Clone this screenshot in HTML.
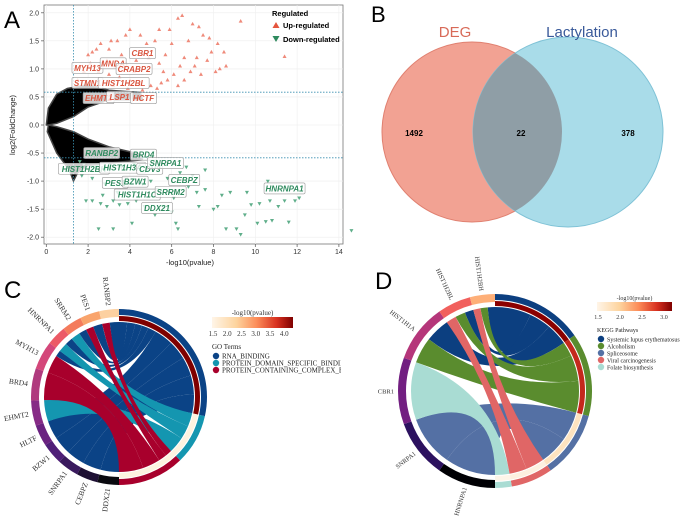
<!DOCTYPE html>
<html><head><meta charset="utf-8"><style>
html,body{margin:0;padding:0;background:#fff}
svg{display:block}
text{font-family:"Liberation Sans",sans-serif}
.serif{font-family:"Liberation Serif",serif}
</style></head><body>
<svg id="fig" width="685" height="518" viewBox="0 0 685 518" xmlns="http://www.w3.org/2000/svg">
<rect width="685" height="518" fill="#fff"/>
<defs><clipPath id="clipC"><rect x="0" y="270" width="341" height="248"/></clipPath></defs>
<g id="volcano"></g>
<g id="venn">
  <circle cx="472" cy="132" r="90" fill="#f2a293" stroke="#e08070" stroke-width="1"/>
  <circle cx="568" cy="132" r="95" fill="#a9dce9" stroke="#7fc2d6" stroke-width="1"/>
  <clipPath id="cl"><circle cx="472" cy="132" r="90"/></clipPath>
  <circle cx="568" cy="132" r="95" fill="#8f9ea6" clip-path="url(#cl)"/>
  <text x="455" y="37" font-size="15" fill="#d86a58" text-anchor="middle">DEG</text>
  <text x="582" y="37" font-size="15" fill="#3a5a9a" text-anchor="middle">Lactylation</text>
  <text x="414" y="136" font-size="8" font-weight="bold" text-anchor="middle">1492</text>
  <text x="521" y="136" font-size="8" font-weight="bold" text-anchor="middle">22</text>
  <text x="628" y="136" font-size="8" font-weight="bold" text-anchor="middle">378</text>
</g>
<g id="chordC" clip-path="url(#clipC)"></g>
<g id="chordD"></g>
<text x="4" y="28" font-size="24">A</text>
<text x="371" y="22" font-size="22">B</text>
<text x="4" y="298" font-size="24">C</text>
<text x="375" y="289" font-size="24">D</text>
</svg>
<script>
// ---------- Volcano data ----------
const upX=[6.5,6.3,7,7.3,9.3,11.4,5.9,5.4,4.5,4.0,3.8,3.4,3.1,2.6,2.2,2.0,2.4,3,4.8,5.2,6.0,6.8,7.5,7.8,8.2,7.9,8.5,7.7,7.2,6.6,8.3,8.6,8.1,7.4,6.9,6.4,6.1,5.8,6.3,5.5,5,4.5,4,3.5,3,2.5,3.3,3.8,4.3,5.4,5.7,4.9,3.6,2.9,2.3,1.8,1.5,1.9,2.6,3.9,4.6,5.3,6.6,7.1,2.1,3.2,4.2,5.6];
const upY=[1.95,1.9,1.8,1.75,1.85,1.22,1.7,1.7,1.6,1.7,1.6,1.5,1.5,1.45,1.3,1.25,1.35,1.35,1.45,1.5,1.45,1.5,1.6,1.55,1.45,1.3,1.3,1.15,1.2,1.2,1.0,1.05,0.95,0.9,0.95,1.05,0.9,0.8,0.7,0.75,0.7,0.75,0.8,0.85,0.9,0.95,1.05,1.1,1.15,1.1,1.25,1.2,1.25,1.15,1.05,0.95,0.8,0.75,0.72,0.65,0.62,0.65,0.8,1.05,1.1,0.7,0.95,0.95];
const downX=[14.6,11.6,11.9,12.1,11.4,11.1,10.7,10.6,10.2,9.8,9.5,10.1,10.5,10.8,9.1,9.3,8.6,8.2,8.0,8.4,8.8,9.6,7.6,7.2,6.8,6.3,6.2,6.0,5.6,5.2,4.7,4.3,3.9,3.5,3.2,2.9,2.6,2.2,1.9,2.5,3.2,4.1,2.7,3.4,4.6,5.0,5.8,6.4,7.0,7.6,6.7,5.5,4.8,4.2,3.6,3.0,2.4,1.8,1.6,2.2,1.7,2.8,3.8,5.3,6.1,7.3,5.9];
const downY=[-1.88,-1.73,-1.35,-1.3,-1.35,-1.45,-1.35,-1.0,-1.4,-1.42,-1.6,-1.75,-1.72,-1.7,-1.85,-1.95,-1.85,-1.45,-1.5,-1.25,-1.2,-1.2,-1.15,-1.2,-1.1,-1.85,-1.75,-1.55,-1.45,-1.6,-1.45,-1.35,-1.4,-1.42,-1.35,-1.45,-1.4,-1.35,-1.35,-1.85,-1.85,-1.75,-1.25,-1.2,-1.05,-1.0,-0.95,-0.85,-0.9,-0.8,-0.75,-0.75,-0.8,-0.7,-0.75,-0.8,-0.75,-0.7,-0.65,-0.95,-0.9,-1.05,-1.05,-1.15,-1.3,-1.45,-1.2];
const cloudUpX=[0,0.1,0.5,1,2,3,4.5,4.6,3,2,1.3,0.5,0.1];
const cloudUpY=[0,0.3,0.55,0.65,0.72,0.62,0.58,0.45,0.45,0.32,0.15,0.03,0];
const cloudDnX=[0.1,0.5,1.3,2,3,4.5,4.6,3,2,1.5,1.3,1.1,0.5,0.05];
const cloudDnY=[0,-0.03,-0.12,-0.25,-0.39,-0.52,-0.62,-0.68,-0.72,-0.85,-1.0,-0.8,-0.5,-0.12];
const xTicks=[0,2,4,6,8,10,12,14];
const yTicks=[2.0,1.5,1.0,0.5,0.0,-0.5,-1.0,-1.5,-2.0];
const labelGene=["MYH13","MNDA","CBR1","CRABP2","STMN1","HIST1H2BL","EHMT2","LSP1","HCTF","RANBP2","BRD4","HIST1H2BH","HIST1H3A","CDV3","SNRPA1","CEBPZ","PES1","BZW1","HIST1H1C","SRRM2","DDX21","HNRNPA1"];
const labelX=[1.97,3.2,4.6,4.2,1.97,3.7,2.5,3.5,4.65,2.65,4.65,1.8,3.65,4.95,5.7,6.6,3.3,4.25,4.35,5.95,5.3,11.4];
const labelY=[1.02,1.1,1.28,1.0,0.75,0.75,0.48,0.5,0.48,-0.5,-0.53,-0.78,-0.76,-0.78,-0.68,-0.98,-1.03,-1.01,-1.24,-1.19,-1.48,-1.13];

const NS="http://www.w3.org/2000/svg";
function mk(tag,attrs,parent){const e=document.createElementNS(NS,tag);for(const k in attrs)e.setAttribute(k,attrs[k]);if(parent)parent.appendChild(e);return e;}
const sx=v=>46.3+v*20.9, sy=v=>125-v*56.1;
const V=document.getElementById('volcano');
let frame=mk('rect',{x:44,y:5,width:299,height:239,fill:'#fff',stroke:'#777','stroke-width':0.8},V);


xTicks.forEach(t=>{
  let g=mk('line',{x1:sx(t),x2:sx(t),y1:5,y2:244,stroke:'#eee','stroke-width':0.6},V);
  
  
  let tk=mk('line',{x1:sx(t),x2:sx(t),y1:244,y2:247,stroke:'#555','stroke-width':0.7},V);
  
  
  let tx=mk('text',{x:sx(t),y:254,'font-size':7,'text-anchor':'middle',fill:'#333'},V);tx.textContent=t;
  
  
});
yTicks.forEach(t=>{
  let g=mk('line',{x1:44,x2:343,y1:sy(t),y2:sy(t),stroke:'#eee','stroke-width':0.6},V);
  
  
  let tk=mk('line',{x1:41,x2:44,y1:sy(t),y2:sy(t),stroke:'#555','stroke-width':0.7},V);
  
  
  let tx=mk('text',{x:39,y:sy(t)+2.5,'font-size':7,'text-anchor':'end',fill:'#333'},V);tx.textContent=t.toFixed(1);
  
  
});
let cu=mk('polygon',{points:cloudUpX.map((x,i)=>sx(x)+','+sy(cloudUpY[i])).join(' '),fill:'#000',stroke:'#444','stroke-width':1.5,'stroke-linejoin':'round'},V);


let cd=mk('polygon',{points:cloudDnX.map((x,i)=>sx(x)+','+sy(cloudDnY[i])).join(' '),fill:'#000',stroke:'#444','stroke-width':1.5,'stroke-linejoin':'round'},V);


upX.forEach((x,i)=>{const X=sx(x),Y=sy(upY[i]);
  let p=mk('polygon',{points:`${X},${Y-2.2} ${X-2},${Y+1.4} ${X+2},${Y+1.4}`,fill:'#ef8a7a'},V);
  
  });
downX.forEach((x,i)=>{const X=sx(x),Y=sy(downY[i]);
  let p=mk('polygon',{points:`${X},${Y+2.2} ${X-2},${Y-1.4} ${X+2},${Y-1.4}`,fill:'#5fae8a'},V);
  
  });
[[1.3,null],[null,0.585],[null,-0.585]].forEach(([vx,hy])=>{
  let l= vx!==null? mk('line',{x1:sx(vx),x2:sx(vx),y1:5,y2:244},V):mk('line',{x1:44,x2:343,y1:sy(hy),y2:sy(hy)},V);
  l.setAttribute('stroke','#3a8fb0');l.setAttribute('stroke-width','0.8');l.setAttribute('stroke-dasharray','1.5,1.5');
  
  
});
labelGene.forEach((g,i)=>{
  const up=labelY[i]>0, w=g.length*5.0+6, X=sx(labelX[i]), Y=sy(labelY[i]);
  let r=mk('rect',{x:X-w/2,y:Y-5.5,width:w,height:11,rx:1.5,fill:'rgba(255,255,255,0.8)',stroke:'#999','stroke-width':0.6},V);
  
  
  let t=mk('text',{x:X,y:Y+3,'font-size':8,'font-style':'italic','font-weight':'bold','text-anchor':'middle',fill:up?'#d9553f':'#2e8a5e'},V);t.textContent=g;
  
  
});
let xt=mk('text',{x:190,y:265,'font-size':7.5,'text-anchor':'middle',fill:'#222'},V);xt.textContent='-log10(pvalue)';


let yt=mk('text',{x:15,y:125,'font-size':7.5,'text-anchor':'middle',fill:'#222',transform:'rotate(-90 15 125)'},V);yt.textContent='log2(FoldChange)';


let lg=mk('text',{x:272,y:16,'font-size':7.5,'font-weight':'bold'},V);lg.textContent='Regulated';


let l1=mk('polygon',{points:'276,22 272.5,28 279.5,28',fill:'#e5553e'},V);


let l1t=mk('text',{x:283,y:28,'font-size':7.5,'font-weight':'bold'},V);l1t.textContent='Up-regulated';


let l2=mk('polygon',{points:'276,42 272.5,36 279.5,36',fill:'#2e8a5e'},V);


let l2t=mk('text',{x:283,y:42,'font-size':7.5,'font-weight':'bold'},V);l2t.textContent='Down-regulated';



// ---------- Chord C data ----------
const cGenes=["DDX21","CEBPZ","SNRPA1","BZW1","HLTF","EHMT2","BRD4","MYH13","HNRNPA1","SRRM2","PES1","RANBP2"];
const cGeneColors=["#0a0a10","#1e1033","#3a1a5e","#4f1f78","#6a2280","#862b86","#b03a7e","#d4477a","#ec5a66","#f47b5c","#f9a46c","#fcd0a0"];
const cTerms=["RNA_BINDING","PROTEIN_DOMAIN_SPECIFIC_BINDING","PROTEIN_CONTAINING_COMPLEX_BINDING"];
const cTermColors=["#0b4386","#1496b0","#a8002c"];
const cTermInner=["#7f0000","#fdf3e0","#fdf3e0"];
const cLinkGene=["DDX21","CEBPZ","SNRPA1","BZW1","HLTF","EHMT2","BRD4","MYH13","MYH13","HNRNPA1","HNRNPA1","SRRM2","SRRM2","PES1","PES1","RANBP2","RANBP2"];
const cLinkTerm=[0,0,0,0,0,1,2,2,0,1,0,1,0,2,0,2,0];
const cLinkGW=[12,12,12,12,12,14,18,12,4,6,5,6,5,5,6,5,6];
const cLinkTW=[14,14,14,14,14,12,18,13,6,10,5,10,5,6,6,5,6];
// ---------- Chord D data ----------
const dGenes=["HNRNPA1","SNRPA1","CBR1","HIST1H1A","HIST1H2BL","HIST1H2BH"];
const dGeneColors=["#000004","#2c115f","#721f81","#b5367a","#f1605d","#feaf78"];
const dTerms=["Systemic lupus erythematosus","Alcoholism","Spliceosome","Viral carcinogenesis","Folate biosynthesis"];
const dTermColors=["#0c3f80","#5a8c2e","#5470a4","#e06666","#a9dcd3"];
const dTermInner=["#8b0000","#c4281c","#fde3c0","#fdf0e0","#fdf5e8"];
const dLinkGene=["HNRNPA1","SNRPA1","CBR1","HIST1H1A","HIST1H1A","HIST1H2BL","HIST1H2BL","HIST1H2BL","HIST1H2BH","HIST1H2BH","HIST1H2BH"];
const dLinkTerm=[2,2,4,0,1,0,1,3,0,1,3];
const dLinkGW=[35,35,40,17,18,6,7,7,5,5,5];
const dLinkTW=[20,20,10,15,22,15,18,12,25,10,13];

function pt(cx,cy,r,a){const t=a*Math.PI/180;return [cx+r*Math.sin(t),cy-r*Math.cos(t)];}
function arcPath(cx,cy,r1,r2,a1,a2){
  const p1=pt(cx,cy,r2,a1),p2=pt(cx,cy,r2,a2),p3=pt(cx,cy,r1,a2),p4=pt(cx,cy,r1,a1);const lg=(a2-a1)>180?1:0;
  return `M${p1} A${r2},${r2} 0 ${lg} 1 ${p2} L${p3} A${r1},${r1} 0 ${lg} 0 ${p4} Z`;}
function chord(G,cx,cy,R,genes,gcol,terms,tcol,tin,lg,lt,gw,tw,fs){
  const gi=lg.map(g=>genes.indexOf(g));
  const gs=genes.map((_,k)=>gw.reduce((s,w,i)=>s+(gi[i]===k?w:0),0)), gT=gs.reduce((a,b)=>a+b,0);
  const ts=terms.map((_,k)=>tw.reduce((s,w,i)=>s+(lt[i]===k?w:0),0)), tT=ts.reduce((a,b)=>a+b,0);
  const gStart=[],tStart=[];let a=180;gs.forEach(s=>{gStart.push(a);a+=s/gT*180;});a=0;ts.forEach(s=>{tStart.push(a);a+=s/tT*180;});
  const gA={},tA={};
  genes.forEach((_,k)=>{let cur=gStart[k];lg.map((_,i)=>i).filter(i=>gi[i]===k).sort((x,y)=>lt[y]-lt[x]).forEach(i=>{gA[i]=[cur,cur+gw[i]/gT*180];cur+=gw[i]/gT*180;});});
  terms.forEach((_,k)=>{let cur=tStart[k];lg.map((_,i)=>i).filter(i=>lt[i]===k).sort((x,y)=>gi[y]-gi[x]).forEach(i=>{tA[i]=[cur,cur+tw[i]/tT*180];cur+=tw[i]/tT*180;});});
  const rc=R-13;
  lg.forEach((_,i)=>{
    const [a1,a2]=gA[i],[b1,b2]=tA[i];
    const A1=pt(cx,cy,rc,a1),A2=pt(cx,cy,rc,a2),B1=pt(cx,cy,rc,b1),B2=pt(cx,cy,rc,b2);
    const d=`M${A1} A${rc},${rc} 0 0 1 ${A2} Q${cx},${cy} ${B1} A${rc},${rc} 0 ${(b2-b1)>180?1:0} 1 ${B2} Q${cx},${cy} ${A1} Z`;
    let p=mk('path',{d:d,fill:tcol[lt[i]],stroke:'none'},G);
    
    
  });
  genes.forEach((g,k)=>{const a1=gStart[k],a2=a1+gs[k]/gT*180;
    let s=mk('path',{d:arcPath(cx,cy,R-8,R,a1,a2),fill:gcol[k]},G);
    
    
    const m=(a1+a2)/2,p=pt(cx,cy,R+4,m);
    let t=mk('text',{x:p[0],y:p[1]+2.5,'font-size':fs,'text-anchor':'end',fill:'#333',class:'serif',transform:`rotate(${m-270} ${p[0]} ${p[1]})`},G);t.textContent=g;
    
    
  });
  terms.forEach((g,k)=>{const a1=tStart[k],a2=a1+ts[k]/tT*180;
    let s=mk('path',{d:arcPath(cx,cy,R-6,R,a1,a2),fill:tcol[k]},G);
    
    
    let s2=mk('path',{d:arcPath(cx,cy,R-12,R-7,a1,a2),fill:tin[k]},G);
    
    
  });
}
chord(document.getElementById('chordC'),119,397,88,cGenes,cGeneColors,cTerms,cTermColors,cTermInner,cLinkGene,cLinkTerm,cLinkGW,cLinkTW,7.5);
chord(document.getElementById('chordD'),495,391,97,dGenes,dGeneColors,dTerms,dTermColors,dTermInner,dLinkGene,dLinkTerm,dLinkGW,dLinkTW,6.5);

// ---------- legends ----------
function legend(G,x,y,w,h,ticks,fsT,title,groupTitle,names,cols,dy,fs){
  const id='grad'+x;
  const defs=mk('defs',{},G);const lgd=mk('linearGradient',{id:id,x1:0,x2:1,y1:0,y2:0},defs);
  [['0','#fff5e8'],['0.3','#fdd49e'],['0.55','#fc8d59'],['0.8','#d7301f'],['1','#7f0000']].forEach(([o,c])=>mk('stop',{offset:o,'stop-color':c},lgd));
  let tt=mk('text',{x:x+w/2,y:y-2,'font-size':fsT,'text-anchor':'middle',class:'serif',fill:'#333'},G);tt.textContent=title;
  
  
  let cb=mk('rect',{x:x,y:y,width:w,height:h,fill:`url(#${id})`},G);
  
  
  ticks.forEach((t,i)=>{const X=x+i*(w*0.88)/(ticks.length-1)+1;
    let tk=mk('text',{x:X,y:y+h+8,'font-size':fsT,'text-anchor':'middle',class:'serif',fill:'#333'},G);tk.textContent=t;
    
    });
  let gt=mk('text',{x:x,y:y+h+21,'font-size':fs,class:'serif',fill:'#222'},G);gt.textContent=groupTitle;
  
  
  names.forEach((n,i)=>{const Y=y+h+28+i*dy;
    let c=mk('circle',{cx:x+4,cy:Y,r:dy/2-0.3,fill:cols[i]},G);
    
    
    let t=mk('text',{x:x+10,y:Y+2.3,'font-size':fs,class:'serif',fill:'#222'},G);t.textContent=n;
    
    });
}
legend(document.getElementById('chordC'),212,317,81,11,["1.5","2.0","2.5","3.0","3.5","4.0"],7,"-log10(pvalue)","GO Terms",cTerms,cTermColors,7,7);
legend(document.getElementById('chordD'),597,302,75,9,["1.5","2.0","2.5","3.0"],6,"-log10(pvalue)","KEGG Pathways",dTerms,dTermColors,7,6);
</script>
</body></html>
